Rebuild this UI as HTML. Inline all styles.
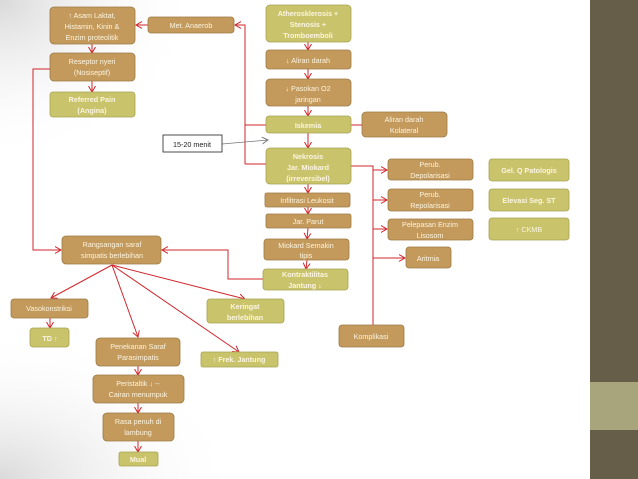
<!DOCTYPE html>
<html><head><meta charset="utf-8"><style>
html,body{margin:0;padding:0;width:638px;height:479px;overflow:hidden;background:#fff}
svg{display:block}
text{font-family:"Liberation Sans",sans-serif;font-size:7.2px;fill:#fbf4e0;text-anchor:middle}
.b{font-weight:bold}
.br{fill:#c39a5c;stroke:#9c7a44;stroke-width:0.8}
.ol{fill:#c9c46c;stroke:#a8a252;stroke-width:0.8}
.ln{stroke:#d0262c;stroke-width:1;fill:none}
</style></head><body>
<svg width="638" height="479" viewBox="0 0 638 479" xmlns="http://www.w3.org/2000/svg">
<defs>
<radialGradient id="g1" cx="0" cy="0" r="1"><stop offset="0" stop-color="#d9d9d9"/><stop offset="1" stop-color="#fff" stop-opacity="0"/></radialGradient>
<radialGradient id="g2" cx="0" cy="1" r="1"><stop offset="0" stop-color="#dadada"/><stop offset="1" stop-color="#fff" stop-opacity="0"/></radialGradient>
<marker id="a" markerWidth="8" markerHeight="8" refX="6" refY="4" orient="auto" markerUnits="userSpaceOnUse"><path d="M0,0.5 L6,4 L0,7.5" fill="none" stroke="#d0262c" stroke-width="1"/></marker>
<marker id="ag" markerWidth="8" markerHeight="8" refX="6" refY="4" orient="auto" markerUnits="userSpaceOnUse"><path d="M0,0.5 L6,4 L0,7.5" fill="none" stroke="#777" stroke-width="1"/></marker>
</defs>
<rect x="0" y="0" width="200" height="160" fill="url(#g1)"/>
<rect x="0" y="330" width="240" height="149" fill="url(#g2)"/>
<rect x="590" y="0" width="48" height="479" fill="#665e48"/>
<rect x="590" y="382" width="48" height="48" fill="#a8a47c"/>

<!-- connectors -->
<g class="ln">
<line x1="92" y1="44" x2="92" y2="53" marker-end="url(#a)"/>
<line x1="92" y1="81" x2="92" y2="92" marker-end="url(#a)"/>
<line x1="148" y1="25" x2="136" y2="25" marker-end="url(#a)"/>
<polyline points="266,125 245,125 245,25 235,25" marker-end="url(#a)"/>
<line x1="266" y1="164" x2="245" y2="164"/>
<line x1="245" y1="125" x2="245" y2="164"/>
<line x1="308" y1="42" x2="308" y2="50" marker-end="url(#a)"/>
<line x1="308" y1="69" x2="308" y2="79" marker-end="url(#a)"/>
<line x1="308" y1="106" x2="308" y2="116" marker-end="url(#a)"/>
<line x1="308" y1="133" x2="308" y2="148" marker-end="url(#a)"/>
<line x1="308" y1="184" x2="308" y2="193" marker-end="url(#a)"/>
<line x1="308" y1="207" x2="308" y2="214" marker-end="url(#a)"/>
<line x1="308" y1="228" x2="307" y2="239" marker-end="url(#a)"/>
<line x1="307" y1="260" x2="306" y2="269" marker-end="url(#a)"/>
<line x1="351" y1="125" x2="362" y2="125"/>
<polyline points="351,166 373,166 373,325"/>
<line x1="373" y1="170" x2="387" y2="170" marker-end="url(#a)"/>
<line x1="373" y1="200" x2="387" y2="200" marker-end="url(#a)"/>
<line x1="373" y1="229" x2="387" y2="229" marker-end="url(#a)"/>
<line x1="373" y1="258" x2="405" y2="258" marker-end="url(#a)"/>
<polyline points="52,69 33,69 33,250 61,250" marker-end="url(#a)"/>
<polyline points="263,279 228,279 228,250 162,250" marker-end="url(#a)"/>
<line x1="112" y1="265" x2="51" y2="298" marker-end="url(#a)"/>
<line x1="112" y1="265" x2="138" y2="337" marker-end="url(#a)"/>
<line x1="112" y1="265" x2="239" y2="352" marker-end="url(#a)"/>
<line x1="112" y1="265" x2="245" y2="299" marker-end="url(#a)"/>
<line x1="50" y1="318" x2="50" y2="328" marker-end="url(#a)"/>
<line x1="138" y1="366" x2="138" y2="375" marker-end="url(#a)"/>
<line x1="138" y1="403" x2="138" y2="413" marker-end="url(#a)"/>
<line x1="138" y1="441" x2="138" y2="452" marker-end="url(#a)"/>
</g>
<line x1="222" y1="144" x2="268" y2="140" stroke="#777" stroke-width="0.8" marker-end="url(#ag)"/>

<!-- boxes -->
<rect class="br" x="50" y="7" width="85" height="37" rx="4"/>
<text x="92" y="18">↑ Asam Laktat,</text><text x="92" y="29">Histamin, Kinin &amp;</text><text x="92" y="40">Enzim proteolitik</text>
<rect class="br" x="148" y="17" width="86" height="16" rx="3"/>
<text x="191" y="28">Met. Anaerob</text>
<rect class="br" x="50" y="53" width="85" height="28" rx="4"/>
<text x="92" y="64">Reseptor nyeri</text><text x="92" y="75">(Nosiseptif)</text>
<rect class="ol" x="50" y="92" width="85" height="25" rx="3"/>
<text class="b" x="92" y="102">Referred Pain</text><text class="b" x="92" y="113">(Angina)</text>

<rect class="ol" x="266" y="5" width="85" height="37" rx="4"/>
<text class="b" x="308" y="16">Atherosklerosis +</text><text class="b" x="308" y="27">Stenosis +</text><text class="b" x="308" y="38">Tromboemboli</text>
<rect class="br" x="266" y="50" width="85" height="19" rx="3"/>
<text x="308" y="63">↓ Aliran darah</text>
<rect class="br" x="266" y="79" width="85" height="27" rx="4"/>
<text x="308" y="91">↓ Pasokan O2</text><text x="308" y="102">jaringan</text>
<rect class="ol" x="266" y="116" width="85" height="17" rx="3"/>
<text class="b" x="308" y="128">Iskemia</text>
<rect class="br" x="362" y="112" width="85" height="25" rx="4"/>
<text x="404" y="122">Aliran darah</text><text x="404" y="133">Kolateral</text>
<rect x="163" y="135" width="59" height="17" fill="#fff" stroke="#222" stroke-width="0.8"/>
<text x="192" y="147" style="fill:#222">15-20 menit</text>
<rect class="ol" x="266" y="148" width="85" height="36" rx="4"/>
<text class="b" x="308" y="159">Nekrosis</text><text class="b" x="308" y="170">Jar. Miokard</text><text class="b" x="308" y="181">(irreversibel)</text>
<rect class="br" x="265" y="193" width="85" height="14" rx="2"/>
<text x="307" y="203">Infiltrasi Leukosit</text>
<rect class="br" x="266" y="214" width="85" height="14" rx="2"/>
<text x="308" y="224">Jar. Parut</text>
<rect class="br" x="264" y="239" width="85" height="21" rx="3"/>
<text x="306" y="248">Miokard Semakin</text><text x="306" y="258">tipis</text>
<rect class="ol" x="263" y="269" width="85" height="21" rx="3"/>
<text class="b" x="305" y="277">Kontraktilitas</text><text class="b" x="305" y="288">Jantung ↓</text>

<rect class="br" x="388" y="159" width="85" height="21" rx="3"/>
<text x="430" y="167">Perub.</text><text x="430" y="178">Depolarisasi</text>
<rect class="br" x="388" y="189" width="85" height="22" rx="3"/>
<text x="430" y="197">Perub.</text><text x="430" y="208">Repolarisasi</text>
<rect class="br" x="388" y="219" width="85" height="21" rx="3"/>
<text x="430" y="227">Pelepasan Enzim</text><text x="430" y="238">Lisosom</text>
<rect class="br" x="406" y="247" width="45" height="21" rx="3"/>
<text x="428" y="261">Aritmia</text>
<rect class="ol" x="489" y="159" width="80" height="22" rx="3"/>
<text class="b" x="529" y="173">Gel. Q Patologis</text>
<rect class="ol" x="489" y="189" width="80" height="22" rx="3"/>
<text class="b" x="529" y="203">Elevasi Seg. ST</text>
<rect class="ol" x="489" y="218" width="80" height="22" rx="3"/>
<text x="529" y="232">↑ CKMB</text>
<rect class="br" x="339" y="325" width="65" height="22" rx="3"/>
<text x="371" y="339">Komplikasi</text>

<rect class="br" x="62" y="236" width="99" height="28" rx="4"/>
<text x="112" y="247">Rangsangan saraf</text><text x="112" y="258">simpatis berlebihan</text>
<rect class="br" x="11" y="299" width="77" height="19" rx="3"/>
<text x="49" y="311">Vasokonstriksi</text>
<rect class="ol" x="30" y="328" width="39" height="19" rx="3"/>
<text class="b" x="50" y="341">TD ↑</text>
<rect class="ol" x="207" y="299" width="77" height="24" rx="3"/>
<text class="b" x="245" y="309">Keringat</text><text class="b" x="245" y="320">berlebihan</text>
<rect class="br" x="96" y="338" width="84" height="28" rx="4"/>
<text x="138" y="349">Penekanan Saraf</text><text x="138" y="360">Parasimpatis</text>
<rect class="ol" x="201" y="352" width="77" height="15" rx="2"/>
<text class="b" x="239" y="362">↑ Frek. Jantung</text>
<rect class="br" x="93" y="375" width="91" height="28" rx="4"/>
<text x="138" y="386">Peristaltik ↓ --</text><text x="138" y="397">Cairan menumpuk</text>
<rect class="br" x="103" y="413" width="71" height="28" rx="4"/>
<text x="138" y="424">Rasa penuh di</text><text x="138" y="435">lambung</text>
<rect class="ol" x="119" y="452" width="39" height="14" rx="2"/>
<text class="b" x="138" y="462">Mual</text>
</svg>
</body></html>
